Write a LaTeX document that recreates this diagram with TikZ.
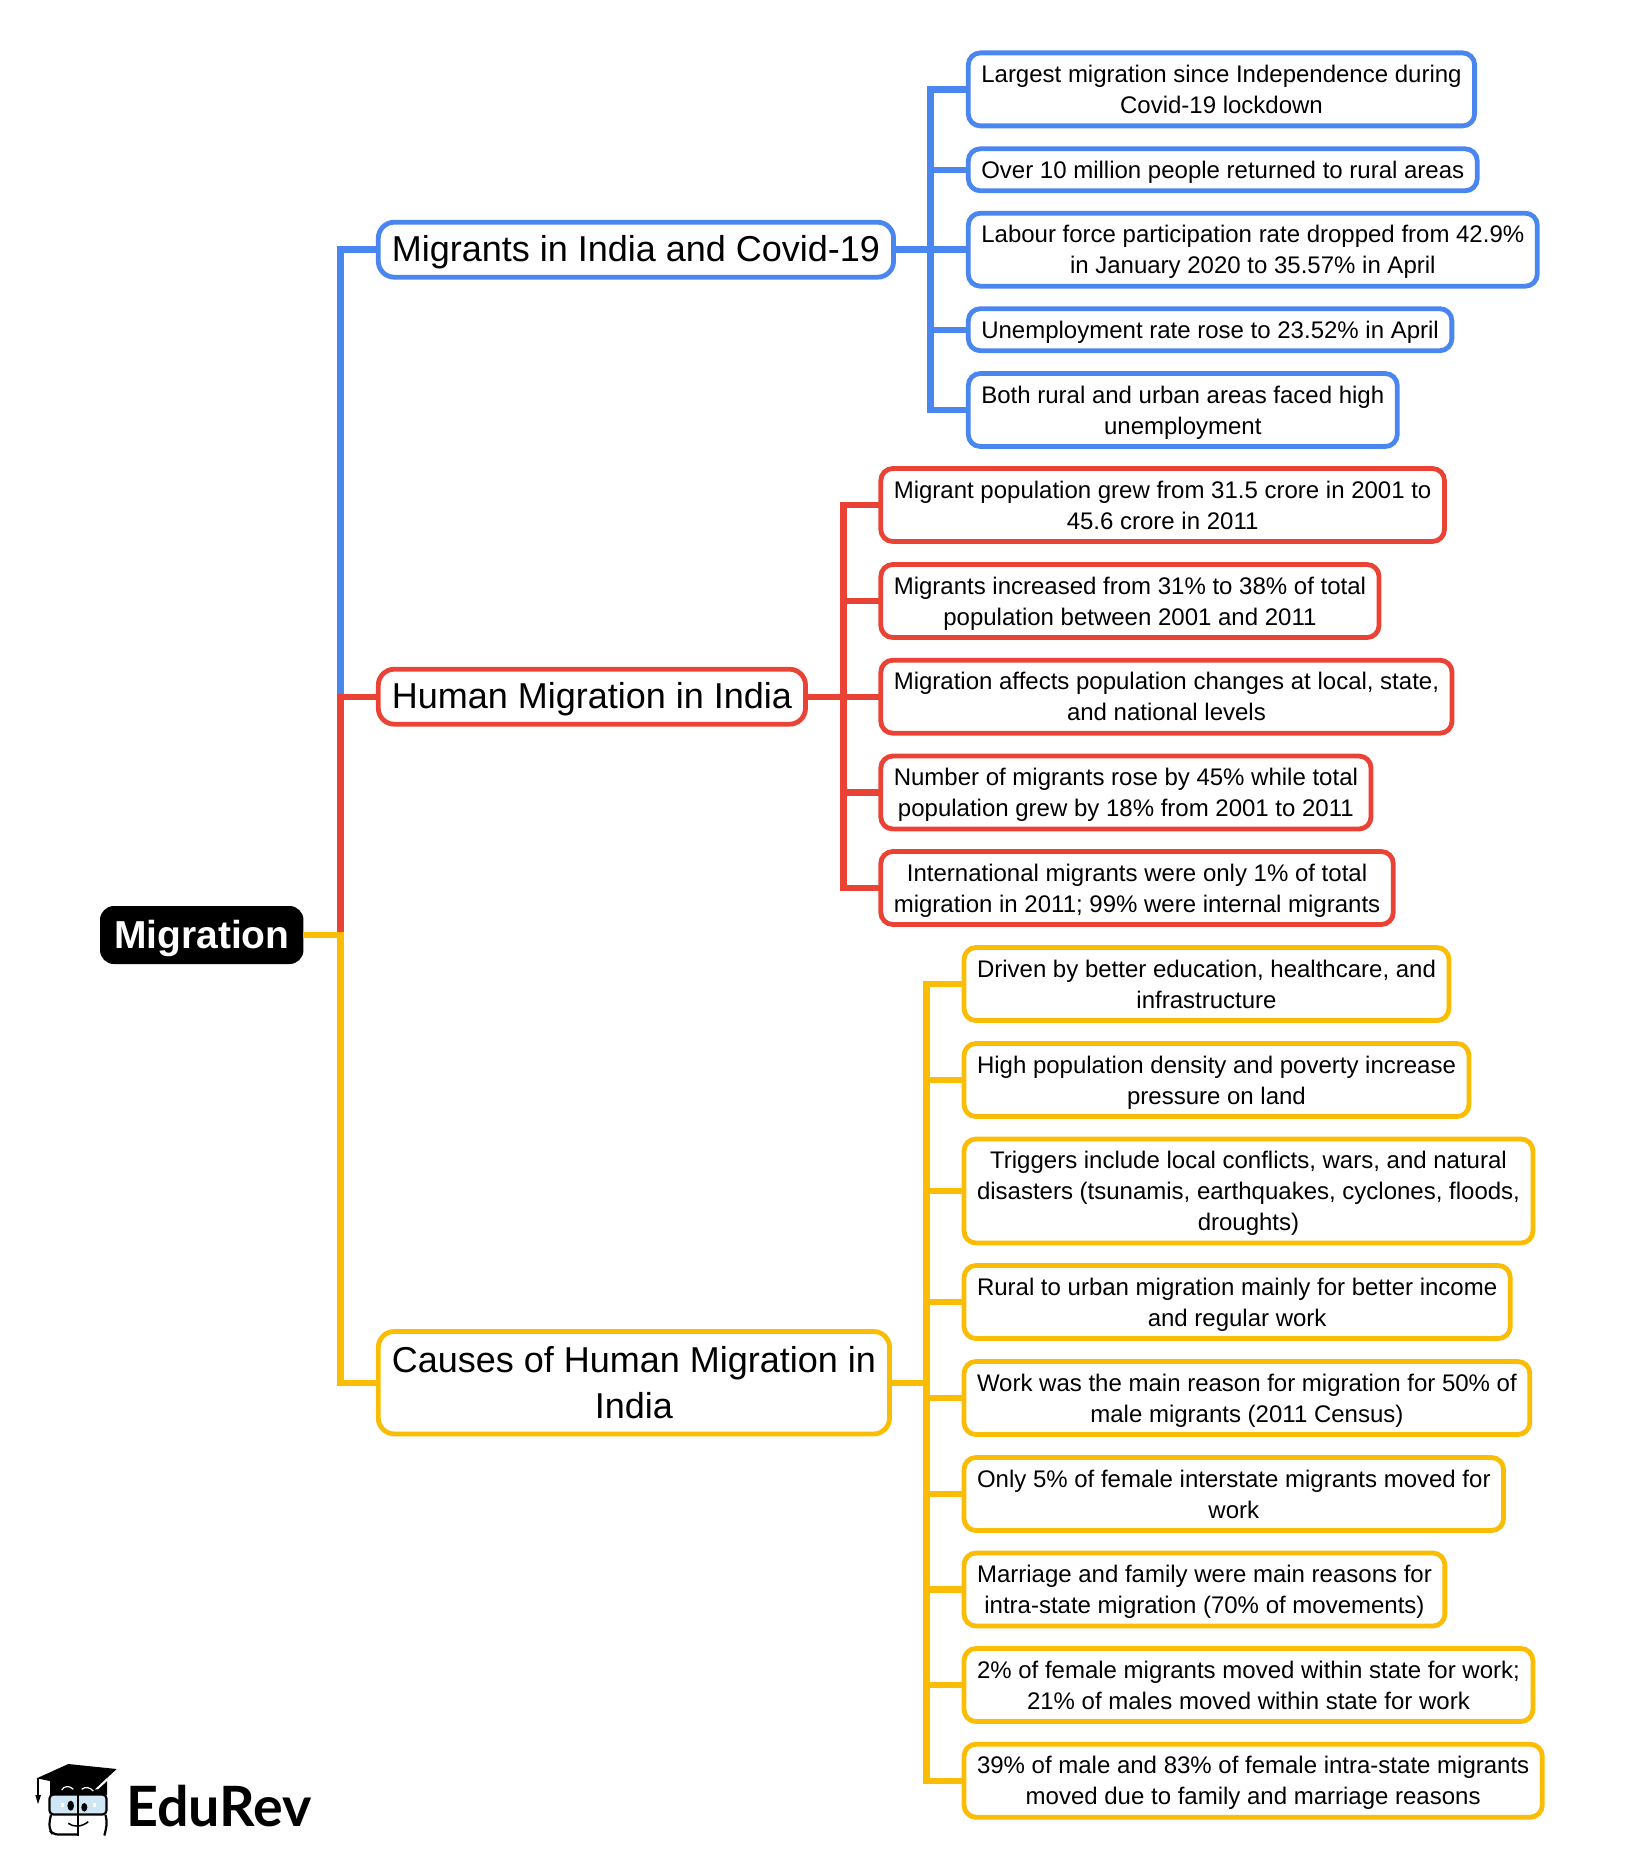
\documentclass[tikz,border=0pt]{standalone}
\usepackage{fontspec}
\setmainfont{Liberation Sans}
\newfontfamily\logofont{Lato}
\usetikzlibrary{positioning}
\definecolor{bluei}{HTML}{4A86F0}
\definecolor{redi}{HTML}{EA4335}
\definecolor{yellowi}{HTML}{FBBC04}
\definecolor{glassi}{HTML}{CFE6F5}
\tikzset{
      myroot/.style={
        fill=black,
        rounded corners=14pt,
        text=white,
        font=\fontsize{39}{44}\selectfont\bfseries,
        inner xsep=14pt,
        inner ysep=0pt,
        outer sep=0pt,
        text height=30pt,
        text depth=4pt,
        minimum height=58pt,
        anchor=west
      },
      mybranch/.style 2 args={
        draw=#1,
        fill=white,
        line width=4.8pt,
        rounded corners=16pt,
        align=center,
        font=\fontsize{36}{46.5}\selectfont,
        inner xsep=13.5pt,
        inner ysep=0pt,
        outer sep=0pt,
        minimum height=#2,
        anchor=west
      },
      myleaf/.style 2 args={
        draw=#1,
        fill=white,
        line width=4.8pt,
        rounded corners=12pt,
        align=center,
        font=\fontsize{24}{31}\selectfont,
        inner xsep=13pt,
        inner ysep=0pt,
        outer sep=0pt,
        text depth=0pt,
        minimum height=#2,
        anchor=west
      },
      myline/.style={
        draw=#1,
        line width=6.4pt,
        shorten >=-2pt
      },
    }

\begin{document}
\begin{tikzpicture}[x=1pt,y=-1pt]
          \useasboundingbox (0,0) rectangle (1646,1870);

          % root and main branches
          \node[myroot] (migration) at (100,935) {Migration};
          \node[mybranch={bluei}{55pt},text height=28pt,text depth=4pt] (covid) at (378.3,249.7) {Migrants in India and Covid-19};
          \node[mybranch={redi}{55pt},text height=28pt,text depth=4pt] (human) at (378.3,696.7) {Human Migration in India};
          \node[mybranch={yellowi}{102.5pt}] (causes) at (378.3,1382.7) {Causes of Human Migration in\\India};

          \coordinate (trunk) at (340.3,935);
          \coordinate (spineb) at (930.3,249.7);
          \coordinate (spiner) at (843.3,696.7);
          \coordinate (spiney) at (926.3,1382.7);

          % blue leaves
          \node[myleaf={bluei}{73pt}] (bi) at (968.3,89.4) {Largest migration since Independence during\\Covid-19 lockdown};
          \node[myleaf={bluei}{42pt}] (bii) at (968.3,169.8) {Over 10 million people returned to rural areas};
          \node[myleaf={bluei}{73pt}] (biii) at (968.3,249.7) {Labour force participation rate dropped from 42.9\%\\in January 2020 to 35.57\% in April};
          \node[myleaf={bluei}{42pt}] (biv) at (968.3,329.7) {Unemployment rate rose to 23.52\% in April};
          \node[myleaf={bluei}{73pt}] (bv) at (968.3,410) {Both rural and urban areas faced high\\unemployment};

          % red leaves
          \node[myleaf={redi}{73pt}] (ri) at (880.8,505) {Migrant population grew from 31.5 crore in 2001 to\\45.6 crore in 2011};
          \node[myleaf={redi}{73pt}] (rii) at (880.8,601) {Migrants increased from 31\% to 38\% of total\\population between 2001 and 2011};
          \node[myleaf={redi}{73pt}] (riii) at (880.8,696.7) {Migration affects population changes at local, state,\\and national levels};
          \node[myleaf={redi}{73pt}] (riv) at (880.8,792.5) {Number of migrants rose by 45\% while total\\population grew by 18\% from 2001 to 2011};
          \node[myleaf={redi}{73pt}] (rv) at (880.8,888) {International migrants were only 1\% of total\\migration in 2011; 99\% were internal migrants};

          % yellow leaves
          \node[myleaf={yellowi}{73pt}] (yi) at (964,984) {Driven by better education, healthcare, and\\infrastructure};
          \node[myleaf={yellowi}{73pt}] (yii) at (964,1080) {High population density and poverty increase\\pressure on land};
          \node[myleaf={yellowi}{104pt}] (yiii) at (964,1191) {Triggers include local conflicts, wars, and natural\\disasters (tsunamis, earthquakes, cyclones, floods,\\droughts)};
          \node[myleaf={yellowi}{73pt}] (yiv) at (964,1302) {Rural to urban migration mainly for better income\\and regular work};
          \node[myleaf={yellowi}{73pt}] (yv) at (964,1398) {Work was the main reason for migration for 50\% of\\male migrants (2011 Census)};
          \node[myleaf={yellowi}{73pt}] (yvi) at (964,1494) {Only 5\% of female interstate migrants moved for\\work};
          \node[myleaf={yellowi}{73pt}] (yvii) at (964,1589.5) {Marriage and family were main reasons for\\intra-state migration (70\% of movements)};
          \node[myleaf={yellowi}{73pt}] (yviii) at (964,1685) {2\% of female migrants moved within state for work;\\21\% of males moved within state for work};
          \node[myleaf={yellowi}{73pt}] (yix) at (964,1780.7) {39\% of male and 83\% of female intra-state migrants\\moved due to family and marriage reasons};

          % connectors
          \draw[myline=bluei] (trunk) |- (covid.west);
          \draw[myline=redi] (trunk) |- (human.west);
          \draw[myline=yellowi] (migration.east) -- (trunk) |- (causes.west);

          \draw[myline=bluei] (covid.east) -- (biii.west);
          \foreach \leaf in {bi,bii,biv,bv}
            \draw[myline=bluei] (spineb) |- (\leaf.west);

          \draw[myline=redi] (human.east) -- (riii.west);
          \foreach \leaf in {ri,rii,riv,rv}
            \draw[myline=redi] (spiner) |- (\leaf.west);

          \draw[myline=yellowi] (causes.east) -- (spiney);
          \foreach \leaf in {yi,yii,yiii,yiv,yv,yvi,yvii,yviii,yix}
            \draw[myline=yellowi] (spiney) |- (\leaf.west);

          % logo
          \node[font=\logofont\fontsize{55.6}{60}\selectfont\bfseries,anchor=base west,inner sep=0pt] (edurev) at (126,1826) {EduRev};
          \fill[black] (36.7,1778.3) -- (68.3,1764) -- (116.7,1769) -- (107,1778) -- (107,1795) -- (50,1795) -- (50,1781) -- cycle;
          \draw[white,line width=1.2pt] (61.7,1790) .. controls (64,1785.5) and (70,1785.5) .. (73.3,1789.3);
          \draw[white,line width=1.2pt] (81.7,1789.3) .. controls (85,1786.5) and (90,1787) .. (93.3,1791);
          \fill[white] (95,1789.3) -- (107,1778) -- (107,1781) -- (98,1789.3) -- cycle;
          \draw[black,line width=1.5pt] (38,1778.3) -- (38,1796);
          \fill[black] (35.3,1795) -- (41,1795) -- (38,1804) -- cycle;
          \draw[black,fill=glassi,line width=2.2pt,rounded corners=4pt] (49.5,1794.5) rectangle (106.5,1814.5);
          \draw[black,line width=2.2pt,rounded corners=5pt] (51,1815) -- (49.5,1820) -- (49.5,1830) -- (53,1834.5) -- (77.7,1834.5);
          \draw[black,line width=2.2pt,rounded corners=5pt] (105.5,1815) -- (107,1820) -- (106,1830) -- (104.3,1835.5);
          \draw[black,line width=1.6pt] (77.7,1793) -- (77.7,1835.5);
          \fill[black] (70.7,1805.7) ellipse (3.3pt and 5pt);
          \fill[black] (84.3,1807.3) ellipse (3pt and 4.3pt);
          \fill[white] (60.5,1803.3) rectangle (64,1806.8);
          \fill[white] (92.5,1803.3) rectangle (96,1806.8);
          \draw[black,line width=1.5pt] (68.3,1823.3) .. controls (73,1827) and (81,1827.5) .. (88.3,1821.7);
        \end{tikzpicture}
\end{document}
